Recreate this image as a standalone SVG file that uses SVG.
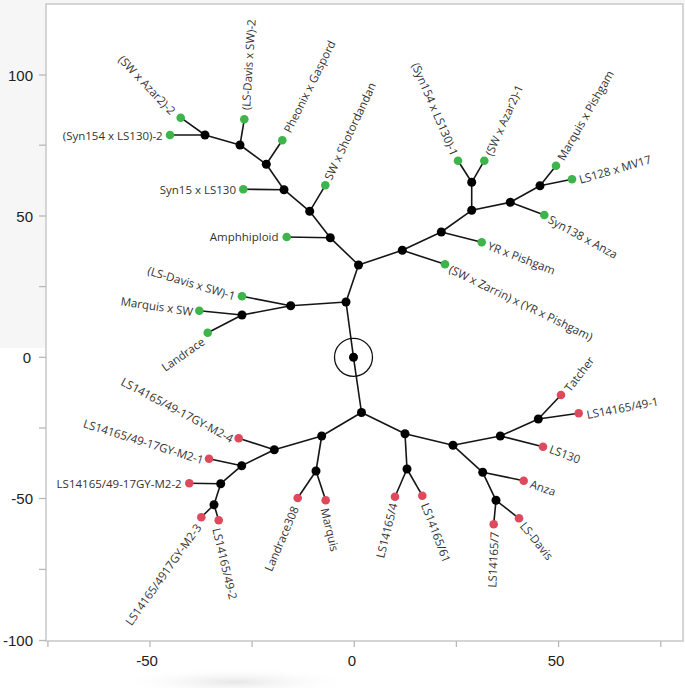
<svg xmlns="http://www.w3.org/2000/svg" width="685" height="688" viewBox="0 0 685 688">
<defs>
<radialGradient id="smudge" cx="0.5" cy="0.5" r="0.5">
<stop offset="0" stop-color="#e6e6e6"/>
<stop offset="1" stop-color="#ffffff" stop-opacity="0"/>
</radialGradient>
</defs>
<style>
.frame{stroke:#c8c8c8;stroke-width:1.5;fill:none}
.tick{stroke:#b8b8b8;stroke-width:1.3}
.ax{font-family:"Liberation Sans",Arial,sans-serif;font-size:15px;fill:#222}
.e{stroke:#151515;stroke-width:1.6;fill:none}
.in{fill:#000}
.g{fill:#3db54a}
.r{fill:#dc4a5c}
.l{font-family:"Open Sans","Noto Sans",sans-serif;font-size:11.5px;fill:#333;dominant-baseline:central}
.s{text-anchor:start}
.n{text-anchor:end}
</style>
<rect x="0" y="0" width="685" height="688" fill="#ffffff"/>
<rect x="0" y="0" width="45" height="348" fill="#f6f6f6"/>
<rect x="0" y="0" width="685" height="4" fill="#f6f6f6"/>
<ellipse cx="235" cy="682" rx="120" ry="14" fill="url(#smudge)"/>
<g id="axes">
<path class="frame" d="M46 4 H683 V641 H46 Z"/>
<g class="tick">
<line x1="39" y1="75" x2="46" y2="75"/>
<line x1="39" y1="145.2" x2="46" y2="145.2"/>
<line x1="39" y1="216" x2="46" y2="216"/>
<line x1="39" y1="286.6" x2="46" y2="286.6"/>
<line x1="39" y1="357.3" x2="46" y2="357.3"/>
<line x1="39" y1="428" x2="46" y2="428"/>
<line x1="39" y1="498.5" x2="46" y2="498.5"/>
<line x1="39" y1="569.4" x2="46" y2="569.4"/>
<line x1="39" y1="640.5" x2="46" y2="640.5"/>
<line x1="47.9" y1="641" x2="47.9" y2="647"/>
<line x1="150" y1="641" x2="150" y2="647"/>
<line x1="252.1" y1="641" x2="252.1" y2="647"/>
<line x1="354.3" y1="641" x2="354.3" y2="647"/>
<line x1="456.4" y1="641" x2="456.4" y2="647"/>
<line x1="558.6" y1="641" x2="558.6" y2="647"/>
<line x1="660.8" y1="641" x2="660.8" y2="647"/>
</g>
<g class="ax" text-anchor="end" dominant-baseline="central">
<text x="33" y="75">100</text>
<text x="33" y="216">50</text>
<text x="31" y="357.3">0</text>
<text x="33" y="498.5">-50</text>
<text x="33" y="640.5">-100</text>
</g>
<g class="ax" text-anchor="middle" dominant-baseline="central">
<text x="147" y="660">-50</text>
<text x="352" y="660">0</text>
<text x="556" y="660">50</text>
</g>
</g>
<g id="connectors" class="e">
<line x1="353.5" y1="357.3" x2="346" y2="302"/>
<line x1="346" y1="302" x2="358.5" y2="265"/>
<line x1="358.5" y1="265" x2="330.3" y2="237.8"/>
<line x1="358.5" y1="265" x2="402.3" y2="250.3"/>
<line x1="346" y1="302" x2="290.7" y2="305.7"/>
<line x1="330.3" y1="237.8" x2="286.7" y2="237"/>
<line x1="330.3" y1="237.8" x2="309.7" y2="211.3"/>
<line x1="309.7" y1="211.3" x2="325.3" y2="185.3"/>
<line x1="309.7" y1="211.3" x2="284" y2="189.7"/>
<line x1="284" y1="189.7" x2="243.3" y2="189.3"/>
<line x1="284" y1="189.7" x2="266.3" y2="164.3"/>
<line x1="266.3" y1="164.3" x2="282.3" y2="140.3"/>
<line x1="266.3" y1="164.3" x2="240" y2="145"/>
<line x1="240" y1="145" x2="244.3" y2="119.3"/>
<line x1="240" y1="145" x2="205" y2="135"/>
<line x1="205" y1="135" x2="180.7" y2="117.7"/>
<line x1="205" y1="135" x2="170" y2="135"/>
<line x1="402.3" y1="250.3" x2="445" y2="264.3"/>
<line x1="402.3" y1="250.3" x2="441.3" y2="232"/>
<line x1="441.3" y1="232" x2="481.7" y2="242.3"/>
<line x1="441.3" y1="232" x2="471.7" y2="210.3"/>
<line x1="471.7" y1="210.3" x2="471.7" y2="182.3"/>
<line x1="471.7" y1="182.3" x2="458" y2="160.7"/>
<line x1="471.7" y1="182.3" x2="484.3" y2="160.7"/>
<line x1="471.7" y1="210.3" x2="510.3" y2="202.3"/>
<line x1="510.3" y1="202.3" x2="544.3" y2="215"/>
<line x1="510.3" y1="202.3" x2="540" y2="185.7"/>
<line x1="540" y1="185.7" x2="556" y2="165.7"/>
<line x1="540" y1="185.7" x2="572" y2="179.3"/>
<line x1="290.7" y1="305.7" x2="242" y2="296.3"/>
<line x1="290.7" y1="305.7" x2="242" y2="315"/>
<line x1="242" y1="315" x2="199.3" y2="310.7"/>
<line x1="242" y1="315" x2="207.7" y2="332.7"/>
<line x1="353.5" y1="357.3" x2="361.5" y2="412.5"/>
<line x1="361.5" y1="412.5" x2="321.7" y2="436"/>
<line x1="361.5" y1="412.5" x2="405" y2="433.7"/>
<line x1="321.7" y1="436" x2="316" y2="471"/>
<line x1="316" y1="471" x2="297.7" y2="498"/>
<line x1="316" y1="471" x2="325.7" y2="500.3"/>
<line x1="321.7" y1="436" x2="274.3" y2="449.7"/>
<line x1="274.3" y1="449.7" x2="238.7" y2="438.3"/>
<line x1="274.3" y1="449.7" x2="241.7" y2="465.7"/>
<line x1="241.7" y1="465.7" x2="209" y2="458.7"/>
<line x1="241.7" y1="465.7" x2="220.7" y2="483.7"/>
<line x1="220.7" y1="483.7" x2="189.3" y2="483.3"/>
<line x1="220.7" y1="483.7" x2="214" y2="504.7"/>
<line x1="214" y1="504.7" x2="201.3" y2="517.3"/>
<line x1="214" y1="504.7" x2="218.7" y2="520.3"/>
<line x1="405" y1="433.7" x2="407" y2="469"/>
<line x1="407" y1="469" x2="395" y2="496.7"/>
<line x1="407" y1="469" x2="422.3" y2="495.7"/>
<line x1="405" y1="433.7" x2="453" y2="445.3"/>
<line x1="453" y1="445.3" x2="500.3" y2="436"/>
<line x1="500.3" y1="436" x2="538.3" y2="419"/>
<line x1="538.3" y1="419" x2="561" y2="395"/>
<line x1="538.3" y1="419" x2="578.7" y2="413.3"/>
<line x1="500.3" y1="436" x2="543" y2="446.7"/>
<line x1="453" y1="445.3" x2="482.7" y2="472.3"/>
<line x1="482.7" y1="472.3" x2="523.7" y2="480.7"/>
<line x1="482.7" y1="472.3" x2="496" y2="500.3"/>
<line x1="496" y1="500.3" x2="493.7" y2="524.3"/>
<line x1="496" y1="500.3" x2="519" y2="518.3"/>
</g>
<g id="root"><circle cx="353.5" cy="357.3" r="19" fill="none" stroke="#111" stroke-width="1.3"/><circle class="in" cx="353.5" cy="357.3" r="4.5"/></g>
<g id="internal-nodes" class="in">
<g id="nN"><circle cx="346" cy="302" r="4.5"/></g>
<g id="nM"><circle cx="358.5" cy="265" r="4.5"/></g>
<g id="nF"><circle cx="330.3" cy="237.8" r="4.5"/></g>
<g id="nE"><circle cx="309.7" cy="211.3" r="4.5"/></g>
<g id="nD"><circle cx="284" cy="189.7" r="4.5"/></g>
<g id="nC"><circle cx="266.3" cy="164.3" r="4.5"/></g>
<g id="nB"><circle cx="240" cy="145" r="4.5"/></g>
<g id="nA"><circle cx="205" cy="135" r="4.5"/></g>
<g id="nL"><circle cx="402.3" cy="250.3" r="4.5"/></g>
<g id="nK"><circle cx="441.3" cy="232" r="4.5"/></g>
<g id="nH"><circle cx="471.7" cy="210.3" r="4.5"/></g>
<g id="nG"><circle cx="471.7" cy="182.3" r="4.5"/></g>
<g id="nI"><circle cx="510.3" cy="202.3" r="4.5"/></g>
<g id="nJ"><circle cx="540" cy="185.7" r="4.5"/></g>
<g id="nO"><circle cx="290.7" cy="305.7" r="4.5"/></g>
<g id="nP"><circle cx="242" cy="315" r="4.5"/></g>
<g id="nQ"><circle cx="361.5" cy="412.5" r="4.5"/></g>
<g id="nR"><circle cx="321.7" cy="436" r="4.5"/></g>
<g id="nW"><circle cx="316" cy="471" r="4.5"/></g>
<g id="nS"><circle cx="274.3" cy="449.7" r="4.5"/></g>
<g id="nT"><circle cx="241.7" cy="465.7" r="4.5"/></g>
<g id="nU"><circle cx="220.7" cy="483.7" r="4.5"/></g>
<g id="nV"><circle cx="214" cy="504.7" r="4.5"/></g>
<g id="nX"><circle cx="405" cy="433.7" r="4.5"/></g>
<g id="nY"><circle cx="407" cy="469" r="4.5"/></g>
<g id="nZ"><circle cx="453" cy="445.3" r="4.5"/></g>
<g id="nAA"><circle cx="500.3" cy="436" r="4.5"/></g>
<g id="nAB"><circle cx="538.3" cy="419" r="4.5"/></g>
<g id="nAC"><circle cx="482.7" cy="472.3" r="4.5"/></g>
<g id="nAD"><circle cx="496" cy="500.3" r="4.5"/></g>
</g>
<g id="leaf-sw-azar2-2"><circle class="g" cx="180.7" cy="117.7" r="4.3"/><text class="l n" transform="translate(173.5,112.5) rotate(46.4)">(SW x Azar2)-2</text></g>
<g id="leaf-syn154-ls130-2"><circle class="g" cx="170" cy="135" r="4.3"/><text class="l n" transform="translate(162.7,135)">(Syn154 x LS130)-2</text></g>
<g id="leaf-lsdavis-sw-2"><circle class="g" cx="244.3" cy="119.3" r="4.3"/><text class="l s" transform="translate(245.5,110) rotate(-86.5)">(LS-Davis x SW)-2</text></g>
<g id="leaf-pheonix-gaspord"><circle class="g" cx="282.3" cy="140.3" r="4.3"/><text class="l s" transform="translate(286.7,131.7) rotate(-63.5)">Pheonix x Gaspord</text></g>
<g id="leaf-syn15-ls130"><circle class="g" cx="243.3" cy="189.3" r="4.3"/><text class="l n" transform="translate(236,189.3)">Syn15 x LS130</text></g>
<g id="leaf-sw-shotordandan"><circle class="g" cx="325.3" cy="185.3" r="4.3"/><text class="l s" transform="translate(327.5,179) rotate(-65)">SW x Shotordandan</text></g>
<g id="leaf-amphhiploid"><circle class="g" cx="286.7" cy="237" r="4.3"/><text class="l n" transform="translate(278.5,236.5)">Amphhiploid</text></g>
<g id="leaf-syn154-ls130-1"><circle class="g" cx="458" cy="160.7" r="4.3"/><text class="l n" transform="translate(455,155) rotate(66.8)">(Syn154 x LS130)-1</text></g>
<g id="leaf-sw-azar2-1"><circle class="g" cx="484.3" cy="160.7" r="4.3"/><text class="l s" transform="translate(488.3,155) rotate(-66)">(SW x Azar2)-1</text></g>
<g id="leaf-marquis-pishgam"><circle class="g" cx="556" cy="165.7" r="4.3"/><text class="l s" transform="translate(560,159.3) rotate(-60.2)">Marquis x Pishgam</text></g>
<g id="leaf-ls128-mv17"><circle class="g" cx="572" cy="179.3" r="4.3"/><text class="l s" transform="translate(579.3,179.5) rotate(-16.3)">LS128 x MV17</text></g>
<g id="leaf-syn138-anza"><circle class="g" cx="544.3" cy="215" r="4.3"/><text class="l s" transform="translate(549.3,218.3) rotate(28.6)">Syn138 x Anza</text></g>
<g id="leaf-yr-pishgam"><circle class="g" cx="481.7" cy="242.3" r="4.3"/><text class="l s" transform="translate(488.3,245) rotate(21)">YR x Pishgam</text></g>
<g id="leaf-sw-zarrin-yr-pishgam"><circle class="g" cx="445" cy="264.3" r="4.3"/><text class="l s" transform="translate(450,268.3) rotate(25.8)">(SW x Zarrin) x (YR x Pishgam)</text></g>
<g id="leaf-lsdavis-sw-1"><circle class="g" cx="242" cy="296.3" r="4.3"/><text class="l n" transform="translate(235,296) rotate(16.7)">(LS-Davis x SW)-1</text></g>
<g id="leaf-marquis-sw"><circle class="g" cx="199.3" cy="310.7" r="4.3"/><text class="l n" transform="translate(193,311.5) rotate(8.5)">Marquis x SW</text></g>
<g id="leaf-landrace"><circle class="g" cx="207.7" cy="332.7" r="4.3"/><text class="l n" transform="translate(203.3,340) rotate(-34.9)">Landrace</text></g>
<g id="leaf-m2-4"><circle class="r" cx="238.7" cy="438.3" r="4.3"/><text class="l n" transform="translate(232.7,439) rotate(27.9)">LS14165/49-17GY-M2-4</text></g>
<g id="leaf-m2-1"><circle class="r" cx="209" cy="458.7" r="4.3"/><text class="l n" transform="translate(203.3,460) rotate(17.3)">LS14165/49-17GY-M2-1</text></g>
<g id="leaf-m2-2"><circle class="r" cx="189.3" cy="483.3" r="4.3"/><text class="l n" transform="translate(181.7,483.3)">LS14165/49-17GY-M2-2</text></g>
<g id="leaf-m2-3"><circle class="r" cx="201.3" cy="517.3" r="4.3"/><text class="l n" transform="translate(198.3,525) rotate(-54.5)">LS14165/4917GY-M2-3</text></g>
<g id="leaf-49-2"><circle class="r" cx="218.7" cy="520.3" r="4.3"/><text class="l s" transform="translate(216.7,528.3) rotate(76.6)">LS14165/49-2</text></g>
<g id="leaf-landrace308"><circle class="r" cx="297.7" cy="498" r="4.3"/><text class="l n" transform="translate(295,506.7) rotate(-66.8)">Landrace308</text></g>
<g id="leaf-marquis"><circle class="r" cx="325.7" cy="500.3" r="4.3"/><text class="l s" transform="translate(325,508.3) rotate(76.5)">Marquis</text></g>
<g id="leaf-ls14165-4"><circle class="r" cx="395" cy="496.7" r="4.3"/><text class="l n" transform="translate(393.3,503.3) rotate(-76)">LS14165/4</text></g>
<g id="leaf-ls14165-61"><circle class="r" cx="422.3" cy="495.7" r="4.3"/><text class="l s" transform="translate(425,503.3) rotate(69)">LS14165/61</text></g>
<g id="leaf-ls14165-7"><circle class="r" cx="493.7" cy="524.3" r="4.3"/><text class="l n" transform="translate(494.3,531.7) rotate(-87.3)">LS14165/7</text></g>
<g id="leaf-ls-davis"><circle class="r" cx="519" cy="518.3" r="4.3"/><text class="l s" transform="translate(522.7,523.3) rotate(51.1)">LS-Davis</text></g>
<g id="leaf-anza"><circle class="r" cx="523.7" cy="480.7" r="4.3"/><text class="l s" transform="translate(530.7,483.3) rotate(19)">Anza</text></g>
<g id="leaf-ls130"><circle class="r" cx="543" cy="446.7" r="4.3"/><text class="l s" transform="translate(550,448.3) rotate(20.6)">LS130</text></g>
<g id="leaf-49-1"><circle class="r" cx="578.7" cy="413.3" r="4.3"/><text class="l s" transform="translate(586.7,414.5) rotate(-10.8)">LS14165/49-1</text></g>
<g id="leaf-tatcher"><circle class="r" cx="561" cy="395" r="4.3"/><text class="l s" transform="translate(566.7,390) rotate(-52.5)">Tatcher</text></g>
</svg>
